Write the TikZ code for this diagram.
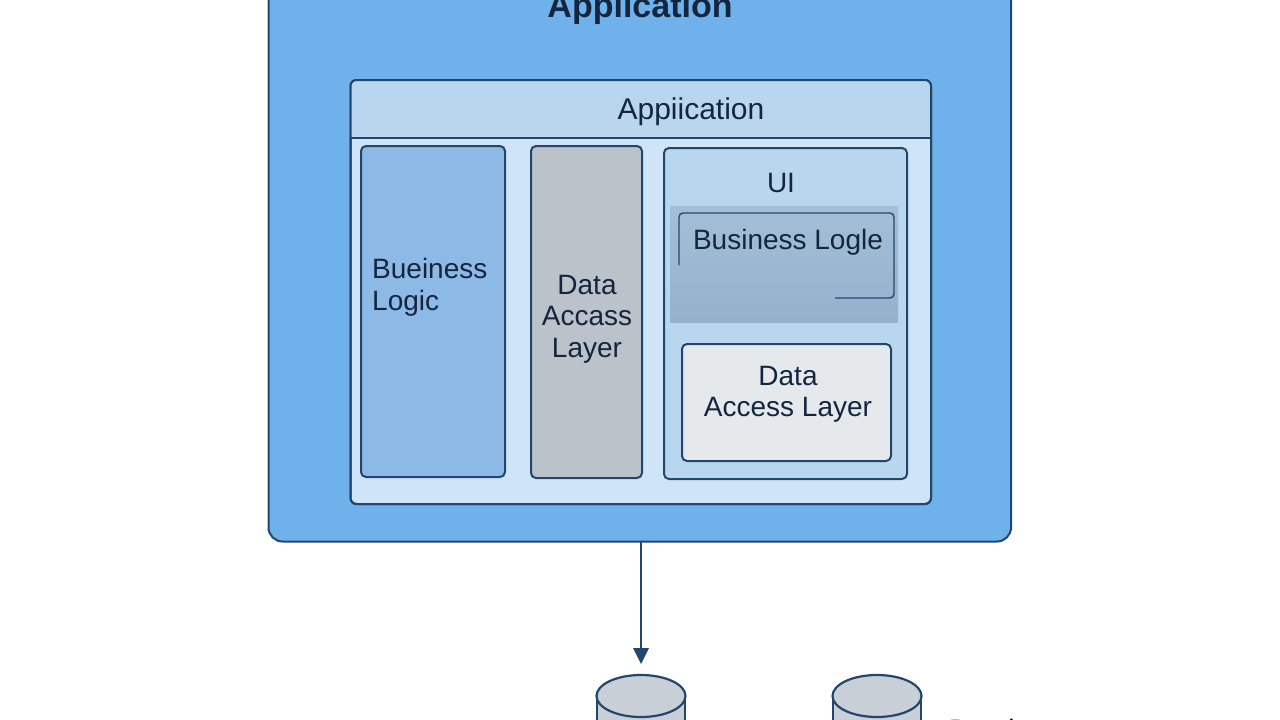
\documentclass[tikz,border=0pt]{standalone}
\usepackage{fontspec}
\setmainfont{Liberation Sans}
\definecolor{ink}{HTML}{23466F}
\definecolor{txt}{HTML}{14263F}
\definecolor{outerc}{HTML}{6FB1EA}
\definecolor{innerc}{HTML}{CFE4F6}
\definecolor{headc}{HTML}{BAD6EE}
\definecolor{blc}{HTML}{8DB9E6}
\definecolor{dalc}{HTML}{BCC2C9}
\definecolor{uic}{HTML}{B9D6EF}
\definecolor{blst}{HTML}{A3BFD8}
\definecolor{blsb}{HTML}{94B2CC}
\definecolor{dalsc}{HTML}{E6E9EC}
\definecolor{dbc}{HTML}{C9CFD6}
\tikzset{
  x=1pt,y=-1pt,
  box/.style={draw=ink,line width=2pt,rounded corners=#1},
  box/.default=5pt,
  lab/.style={text=txt,font=\fontsize{28}{31.5}\selectfont,align=center,inner sep=0pt},
  db/.style={draw=ink,line width=2.2pt,fill=dbc},
}
\begin{document}
\begin{tikzpicture}
\useasboundingbox (0,0) rectangle (1280,720);
\clip (0,0) rectangle (1280,720);
\fill[white] (0,0) rectangle (1280,720);
% outer
\draw[box=14pt,fill=outerc] (268.5,-30) rectangle (1011,541.5);
\coordinate (outerbottom) at (640.5,541);
\node[lab,font=\fontsize{34}{38}\selectfont\bfseries] (t0) at (640,9) {Application};
% inner
\draw[box=6pt,fill=innerc] (350.5,80) rectangle (931,504);
\fill[headc,rounded corners=6pt] (351,80) rectangle (931,138);
\fill[headc] (351,100) rectangle (931,138);
\draw[box=6pt] (350.5,80) rectangle (931,504);
\draw[draw=ink,line width=2pt] (350.5,138) -- (931,138);
\node[lab,font=\fontsize{30}{34}\selectfont] (t1) at (691,112) {Appiication};
% columns
\node[box,fill=blc,minimum width=144pt,minimum height=331pt,anchor=north west] (bl) at (360,145) {};
\node[lab,align=left,anchor=west] (blt) at (372,287.5) {Bueiness\\Logic};
\node[box,fill=dalc,minimum width=111pt,minimum height=332pt,anchor=north west] (dal) at (530,145) {};
\node[lab] (dalt) at (587,319) {Data\\Accass\\Layer};
\node[box,fill=uic,minimum width=243pt,minimum height=331pt,anchor=north west] (ui) at (663,147) {};
\node[lab] (uit) at (781,183) {UI};
% business logic inner
\shade[top color=blst,bottom color=blsb] (670,206) rectangle (898,322);
\draw[draw=ink,line width=1.4pt,rounded corners=4pt] (679,265) -- (679,213) -- (894,213) -- (894,298) -- (835,298);
\node[lab] (blst) at (788,242) {Business Logle};
% DAL inner
\node[box,fill=dalsc,minimum width=209pt,minimum height=117pt,anchor=north west] (dals) at (681,343) {};
\node[lab] (dalst) at (788,394.5) {Data\\Access Layer};
% cylinders
\draw[db] (597,696) -- (597,760) -- (685,760) -- (685,696);
\draw[db] (641,696) ellipse [x radius=44.5,y radius=21];
\coordinate (db1top) at (641,664);
\draw[db] (833,696) -- (833,760) -- (921,760) -- (921,696);
\draw[db] (877,696) ellipse [x radius=44.5,y radius=21];
\node[anchor=north west,inner sep=0pt,text=black,font=\fontsize{28}{32}\selectfont] (dbl) at (949,719) {Database};
% arrow
\draw[draw=ink,line width=2pt] (outerbottom) -- (640.5,650);
\fill[ink] (633,648) -- (649,648) -- (641,664) -- cycle;
\end{tikzpicture}
\end{document}
